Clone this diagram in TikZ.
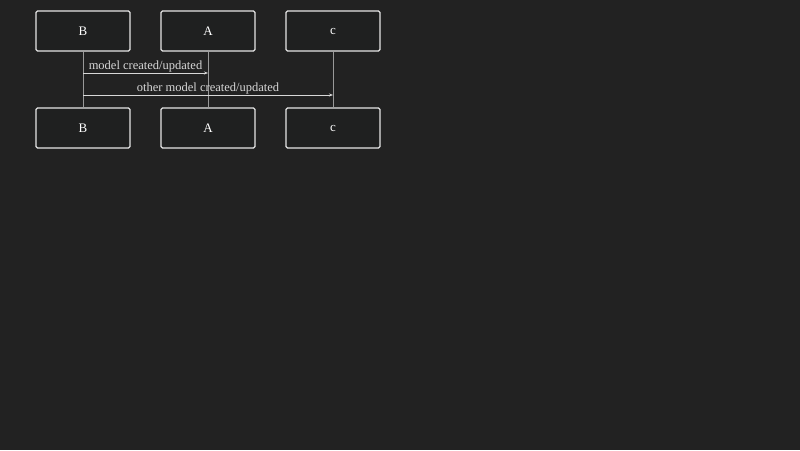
\documentclass[tikz,border=0pt]{standalone}
\usepackage{fontspec}
\setmainfont{Liberation Serif}
\usetikzlibrary{arrows.meta}
\definecolor{bg}{HTML}{222222}
\definecolor{boxfill}{HTML}{1F2020}
\definecolor{boxline}{HTML}{E6E6E6}
\definecolor{lifeline}{HTML}{999999}
\definecolor{msg}{HTML}{D8D8D8}
\begin{document}
\begin{tikzpicture}[x=1pt,y=-1pt,
  actor/.style={draw=boxline,fill=boxfill,line width=1.2pt,rounded corners=1.5pt,minimum width=94pt,minimum height=40pt,inner sep=0pt,text=white,font=\fontsize{13}{15}\selectfont},
  lline/.style={draw=lifeline,line width=0.6pt},
  msgline/.style={draw=msg,line width=0.8pt,-{Stealth[length=4pt,width=3pt]}},
  msglabel/.style={text=msg,font=\fontsize{12.5}{14}\selectfont,inner sep=1pt}]
\fill[bg] (0,0) rectangle (800,450);
\useasboundingbox (0,0) rectangle (800,450);
\node[actor] (Bt) at (83,31) {B};
\node[actor] (At) at (208,31) {A};
\node[actor] (ct) at (333,31) {c};
\node[actor] (Bb) at (83,128) {B};
\node[actor] (Ab) at (208,128) {A};
\node[actor] (cb) at (333,128) {c};
\draw[lline] (Bt.south) -- (Bb.north);
\draw[lline] (At.south) -- (Ab.north);
\draw[lline] (ct.south) -- (cb.north);
\coordinate (m1s) at (83,73);
\coordinate (m1e) at (208,73);
\coordinate (m2s) at (83,95);
\coordinate (m2e) at (333,95);
\draw[msgline] (m1s) -- node[msglabel,above=-0.5pt] (l1) {model created/updated} (m1e);
\draw[msgline] (m2s) -- node[msglabel,above=-0.5pt] (l2) {other model created/updated} (m2e);
\end{tikzpicture}
\end{document}
